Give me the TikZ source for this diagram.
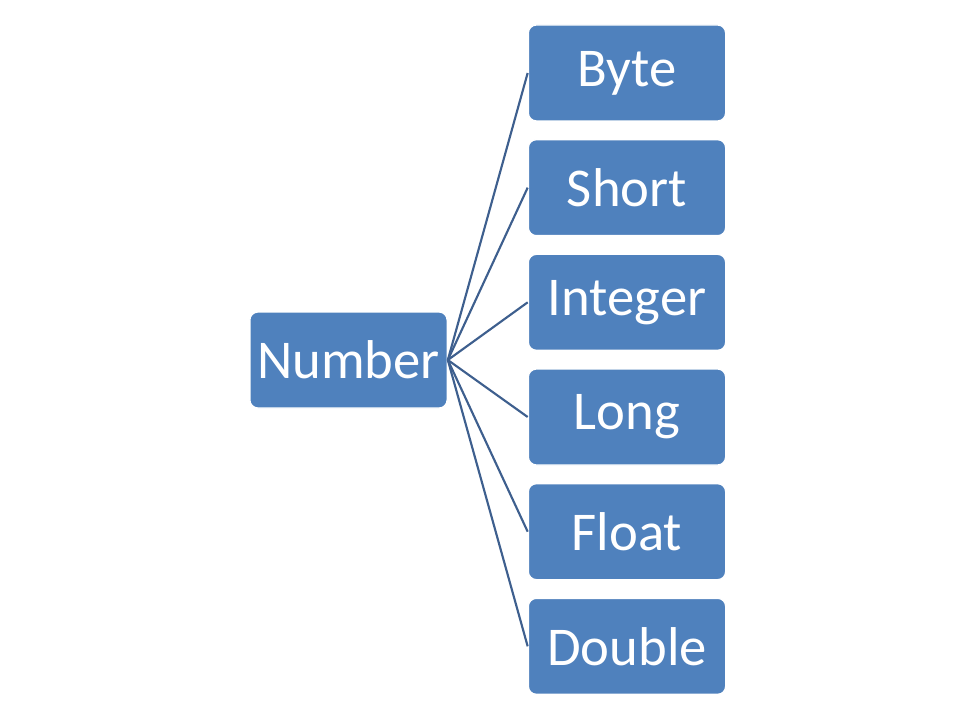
\documentclass[tikz,border=0pt]{standalone}
\usepackage{fontspec}
\setmainfont{Carlito}
\usetikzlibrary{positioning}
\definecolor{boxblue}{HTML}{4F81BD}
\definecolor{linkblue}{HTML}{3E5F8E}
\begin{document}
\begin{tikzpicture}[
        x=0.75pt, y=-0.75pt,
        font=\fontsize{41}{48}\selectfont,
        block/.style={fill=boxblue, draw=white, line width=1pt, rounded corners=6pt, minimum height=72pt, minimum width=148pt, text=white, inner sep=0pt},
        link/.style={draw=linkblue, line width=1.6pt},
    ]
        \useasboundingbox (0,0) rectangle (960,720);

        % root
        \node[block] (num) at (348.5,360) {Number};

        % leaves
        \node[block] (byte) at (627,73)  {Byte};
        \node[block, below=13pt of byte]  (short) {Short};
        \node[block, below=13pt of short] (int)   {Integer};
        \node[block, below=13pt of int]   (long)  {Long};
        \node[block, below=13pt of long]  (float) {Float};
        \node[block, below=13pt of float] (dbl)   {Double};

        % links
        \foreach \leaf in {byte,short,int,long,float,dbl}
            \draw[link] (num.east) -- (\leaf.west);
\end{tikzpicture}
\end{document}
